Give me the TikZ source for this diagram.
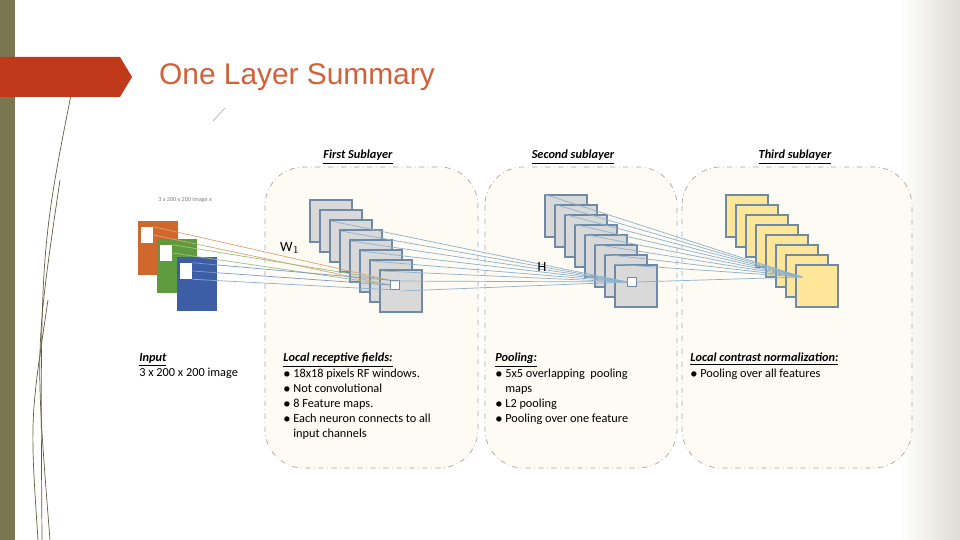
\documentclass[tikz,border=0pt]{standalone}
\usepackage{fontspec}
\setmainfont{Carlito}
\newfontfamily\titlefont{Liberation Sans}
\usetikzlibrary{positioning}
\definecolor{olivec}{HTML}{7A7650}
\definecolor{banner}{HTML}{C0391B}
\definecolor{titlec}{HTML}{D4603A}
\definecolor{panelc}{HTML}{FDFBF4}
\definecolor{mapg}{HTML}{D9D9D9}
\definecolor{mapy}{HTML}{FFE699}
\definecolor{mapb}{HTML}{6F8AA6}
\definecolor{wirec}{HTML}{8DB0CC}
\definecolor{imgr}{HTML}{D0682E}
\definecolor{imgg}{HTML}{5E9B3E}
\definecolor{imgb}{HTML}{3D5DA6}
\definecolor{wirer}{HTML}{E3A070}
\definecolor{wireg}{HTML}{9CC07E}
\definecolor{wireb}{HTML}{7E98C8}
\begin{document}
\begin{tikzpicture}
[x=0.02cm,y=-0.02cm,
 panel/.style={draw=gray!70,dash dot,fill=panelc,rounded corners=22pt},
 head/.style={font=\bfseries\itshape\fontsize{7}{8}\selectfont},
 fmap/.style={draw=mapb,thick,minimum size=24pt,inner sep=0pt},
 patch/.style={fill=white,draw=mapb,minimum size=5pt,inner sep=0pt},
 img/.style={minimum width=23pt,minimum height=31pt,inner sep=0pt},
 txt/.style={align=left,anchor=north west,font=\fontsize{7}{8.6}\selectfont,inner sep=0pt},
 link/.style={draw=wirec,thin}]
\useasboundingbox (0,0) rectangle (960,540);
\fill[white] (0,0) rectangle (960,540);
\fill[right color=olivec!25,left color=white] (900,0) rectangle (960,540);
\fill[olivec] (0,0) rectangle (15,540);
% decorative strokes
\draw[olivec!80!black,thin] (75,75) .. controls (40,250) .. (42,540);
\draw[olivec!80!black,thin] (60,180) .. controls (35,350) .. (50,540);
\draw[olivec!80!black,thin] (48,300) .. controls (30,420) .. (38,540);
\draw[gray!60] (213,121) -- (225,108);
% title banner
\fill[banner] (0,57) -- (120,57) -- (132,77) -- (120,97) -- (0,97) -- cycle;
\node[anchor=west,text=titlec,font=\titlefont\fontsize{17}{20}\selectfont] (title) at (153,77) {One Layer Summary};
% panels
\draw[panel] (265,167) rectangle (478,468);
\draw[panel] (485,167) rectangle (677,468);
\draw[panel] (682,167) rectangle (912,468);
\node[head] (h1) at (358,157) {\underline{First Sublayer}};
\node[head] (h2) at (573,157) {\underline{Second sublayer}};
\node[head] (h3) at (795,157) {\underline{Third sublayer}};
% input images
\node[font=\fontsize{3.5}{4}\selectfont,text=gray] (cap) at (185,200) {3 x 200 x 200 image x};
\node[img,fill=imgr] (imr) at (158,248) {};
\node[img,fill=imgg] (img) at (177,266) {};
\node[img,fill=imgb] (imb) at (197,284) {};
\node[patch,draw=none,minimum width=7pt,minimum height=9pt] (pr) at (147,235) {};
\node[patch,draw=none,minimum width=7pt,minimum height=9pt] (pg) at (166,253) {};
\node[patch,draw=none,minimum width=7pt,minimum height=9pt] (pb) at (186,271) {};
% feature maps
\foreach \i in {1,...,8}{
  \node[fmap,fill=mapg] (f\i) at ({331+10*(\i-1)},{221+10*(\i-1)}) {};}
\foreach \i in {1,...,8}{
  \node[fmap,fill=mapg] (s\i) at ({566+10*(\i-1)},{216+10*(\i-1)}) {};}
\foreach \i in {1,...,8}{
  \node[fmap,fill=mapy] (t\i) at ({747+10*(\i-1)},{216+10*(\i-1)}) {};}
\node[patch] (pf) at (395,285) {};
\node[patch] (ps) at (632,282) {};
\coordinate (pt) at (802,277);
% connections
\foreach \s/\c in {pr/wirer,pg/wireg,pb/wireb}{
  \draw[\c,thin] (\s.north east) -- (pf.north west);
  \draw[\c,thin] (\s.east) -- (pf.west);}
\draw[link] (pb.south east) -- (pf.south west);
\foreach \i in {1,...,8}{
  \draw[link] (f\i.center) -- (ps.west);}
\foreach \i in {1,...,8}{
  \draw[link] (s\i.north west) -- (pt);}
\draw[link] (ps.east) -- (pt);
\node[font=\fontsize{8}{9}\selectfont] (w) at (290,248) {W$_1$};
\node[font=\fontsize{8}{9}\selectfont] (hh) at (542,267) {H};
% descriptions
\node[txt] (d0) at (139,353) {\textbf{\textit{\underline{Input}}}\\3 x 200 x 200 image};
\node[txt] (d1) at (283,353) {\textbf{\textit{\underline{Local receptive fields:}}}\\
  $\bullet$ 18x18 pixels RF windows.\\ $\bullet$ Not convolutional\\ $\bullet$ 8 Feature maps.\\
  $\bullet$ Each neuron connects to all\\ \hphantom{$\bullet$ }input channels};
\node[txt] (d2) at (495,353) {\textbf{\textit{\underline{Pooling:}}}\\
  $\bullet$ 5x5 overlapping \ pooling\\ \hphantom{$\bullet$ }maps\\ $\bullet$ L2 pooling\\ $\bullet$ Pooling over one feature};
\node[txt] (d3) at (690,353) {\textbf{\textit{\underline{Local contrast normalization:}}}\\
  $\bullet$ Pooling over all features};
\end{tikzpicture}
\end{document}
